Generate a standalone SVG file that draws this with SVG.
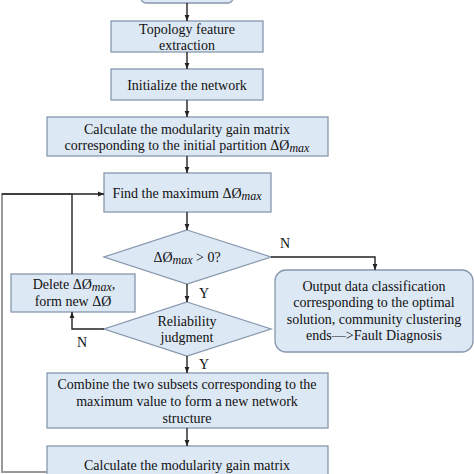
<svg xmlns="http://www.w3.org/2000/svg" width="474" height="474" viewBox="0 0 474 474">
<defs>
<style>
.box{fill:#dde8f5;stroke:#8797ad;stroke-width:1.3}
.t{font-family:"Liberation Serif","Times New Roman",serif;font-size:14px;fill:#111;text-anchor:middle}
.m{font-style:italic;font-size:12px}
.ln{fill:none;stroke:#222;stroke-width:1.4}
.lbl{font-family:"Liberation Serif","Times New Roman",serif;font-size:14px;fill:#111}
</style>
<marker id="ah" viewBox="0 0 10 10" refX="10" refY="5" markerWidth="6" markerHeight="6" orient="auto" markerUnits="userSpaceOnUse">
<path d="M0,1 L10,5 L0,9 z" fill="#222"/>
</marker>
</defs>
<rect width="474" height="474" fill="#fff"/>

<g id="start"><rect class="box" x="141" y="-20" width="92" height="23" rx="5"/></g>
<g id="topology"><rect class="box" x="111" y="21" width="152" height="31"/>
<text class="t" x="187" y="34">Topology feature</text><text class="t" x="187" y="50">extraction</text></g>
<g id="init"><rect class="box" x="111" y="69" width="152" height="31"/>
<text class="t" x="187" y="90">Initialize the network</text></g>
<g id="calc1"><rect class="box" x="47" y="117" width="281" height="39"/>
<text class="t" x="187" y="134">Calculate the modularity gain matrix</text>
<text class="t" x="187" y="150">corresponding to the initial partition ΔØ<tspan class="m" dy="2">max</tspan></text></g>
<g id="find"><rect class="box" x="104" y="173" width="167" height="39"/>
<text class="t" x="187" y="198">Find the maximum ΔØ<tspan class="m" dy="2">max</tspan></text></g>
<g id="dec1"><polygon class="box" points="187,230 271,257 187,284 104,257"/>
<text class="t" x="187" y="262">ΔØ<tspan class="m" dy="2">max</tspan><tspan dy="-2"> &gt; 0?</tspan></text></g>
<g id="output"><rect class="box" x="275" y="270" width="198" height="82" rx="11"/>
<text class="t" x="374" y="291">Output data classification</text>
<text class="t" x="374" y="307">corresponding to the optimal</text>
<text class="t" x="374" y="324">solution, community clustering</text>
<text class="t" x="374" y="340">ends—&gt;Fault Diagnosis</text></g>
<g id="dec2"><polygon class="box" points="187,302 271,329 187,356 104,329"/>
<text class="t" x="187" y="326">Reliability</text><text class="t" x="187" y="342">judgment</text></g>
<g id="delete"><rect class="box" x="11" y="274" width="124" height="38"/>
<text class="t" x="74" y="289">Delete ΔØ<tspan class="m" dy="1.5">max</tspan><tspan dy="-1.5">,</tspan></text>
<text class="t" x="73" y="306">form new ΔØ</text></g>
<g id="combine"><rect class="box" x="47" y="373" width="281" height="55"/>
<text class="t" x="187" y="389">Combine the two subsets corresponding to the</text>
<text class="t" x="187" y="406">maximum value to form a new network</text>
<text class="t" x="187" y="423">structure</text></g>
<g id="calc2"><rect class="box" x="47" y="446" width="281" height="40"/>
<text class="t" x="187" y="470">Calculate the modularity gain matrix</text></g>

<g id="connectors">
<line class="ln" x1="187" y1="3" x2="187" y2="21" marker-end="url(#ah)"/>
<line class="ln" x1="187" y1="52" x2="187" y2="69" marker-end="url(#ah)"/>
<line class="ln" x1="187" y1="100" x2="187" y2="117" marker-end="url(#ah)"/>
<line class="ln" x1="187" y1="156" x2="187" y2="173" marker-end="url(#ah)"/>
<line class="ln" x1="187" y1="212" x2="187" y2="230" marker-end="url(#ah)"/>
<polyline class="ln" points="271,257 375,257 375,270" marker-end="url(#ah)"/>
<line class="ln" x1="187" y1="284" x2="187" y2="302" marker-end="url(#ah)"/>
<polyline class="ln" points="104,329 72,329 72,312" marker-end="url(#ah)"/>
<polyline class="ln" points="72,274 72,194 104,194" marker-end="url(#ah)"/>
<line class="ln" x1="187" y1="356" x2="187" y2="373" marker-end="url(#ah)"/>
<line class="ln" x1="187" y1="428" x2="187" y2="446" marker-end="url(#ah)"/>
<polyline fill="none" stroke="#999" stroke-width="2" points="47,472 2,472 2,194 72,194"/>
<line class="ln" x1="2" y1="194" x2="72" y2="194"/>
<text class="lbl" x="280" y="248">N</text>
<text class="lbl" x="199" y="298">Y</text>
<text class="lbl" x="77" y="347">N</text>
<text class="lbl" x="199" y="369">Y</text>
</g>
</svg>
